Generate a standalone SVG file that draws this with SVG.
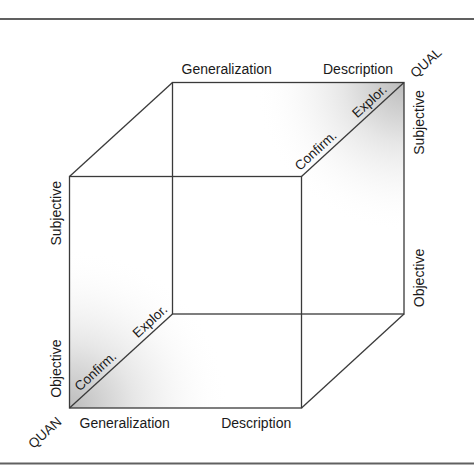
<svg xmlns="http://www.w3.org/2000/svg" width="474" height="474" viewBox="0 0 474 474">
<style>
.edge{fill:none;stroke:#3a3a3a;stroke-width:1.3}
.lbl{font-family:"Liberation Sans",Arial,sans-serif;font-size:14px;fill:#1a1a1a}
.sm{font-size:13.5px}
.rule{stroke:#606060;stroke-width:2}
</style>
<defs>
<radialGradient id="gTR" gradientUnits="userSpaceOnUse" cx="404" cy="82.5" r="150">
<stop offset="0" stop-color="#bcbcbc"/>
<stop offset="0.4" stop-color="#e6e6e6"/>
<stop offset="1" stop-color="#ffffff" stop-opacity="0"/>
</radialGradient>
<radialGradient id="gBL" gradientUnits="userSpaceOnUse" cx="69.5" cy="408" r="160">
<stop offset="0" stop-color="#bcbcbc"/>
<stop offset="0.4" stop-color="#e6e6e6"/>
<stop offset="1" stop-color="#ffffff" stop-opacity="0"/>
</radialGradient>
</defs>
<rect width="474" height="474" fill="#ffffff"/>
<line class="rule" x1="0" y1="19" x2="474" y2="19"/>
<line class="rule" x1="0" y1="463.5" x2="474" y2="463.5"/>
<g id="shading">
<rect x="172.5" y="82.5" width="231.5" height="231.5" fill="url(#gTR)"/>
<rect x="69.5" y="176.5" width="232" height="231.5" fill="url(#gBL)"/>
</g>
<g id="connectors">
<rect class="edge" x="69.5" y="176.5" width="232" height="231.5"/>
<rect class="edge" x="172.5" y="82.5" width="231.5" height="231.5"/>
<line class="edge" x1="69.5" y1="176.5" x2="172.5" y2="82.5"/>
<line class="edge" x1="301.5" y1="176.5" x2="404" y2="82.5"/>
<line class="edge" x1="69.5" y1="408" x2="172.5" y2="314"/>
<line class="edge" x1="301.5" y1="408" x2="404" y2="314"/>
</g>
<g id="labels-top">
<text class="lbl" x="226.7" y="74" text-anchor="middle">Generalization</text>
<text class="lbl" x="358" y="74" text-anchor="middle">Description</text>
<text class="lbl sm" text-anchor="middle" transform="translate(429,66) rotate(-42.5)">QUAL</text>
</g>
<g id="labels-right">
<text class="lbl" text-anchor="middle" transform="translate(424,122.5) rotate(-90)">Subjective</text>
<text class="lbl" text-anchor="middle" transform="translate(424,278) rotate(-90)">Objective</text>
</g>
<g id="labels-left">
<text class="lbl" text-anchor="middle" transform="translate(60.5,213.3) rotate(-90)">Subjective</text>
<text class="lbl" text-anchor="middle" transform="translate(60.5,368.7) rotate(-90)">Objective</text>
<text class="lbl sm" text-anchor="middle" transform="translate(48,436) rotate(-42.5)">QUAN</text>
</g>
<g id="labels-bottom">
<text class="lbl" x="124.7" y="427.5" text-anchor="middle">Generalization</text>
<text class="lbl" x="256.2" y="428" text-anchor="middle">Description</text>
</g>
<g id="labels-diagonal">
<text class="lbl sm" text-anchor="middle" transform="translate(318.7,153.9) rotate(-42.5)">Confirm.</text>
<text class="lbl sm" text-anchor="middle" transform="translate(372.5,104.5) rotate(-42.5)">Explor.</text>
<text class="lbl sm" text-anchor="middle" transform="translate(98.5,374.6) rotate(-42.5)">Confirm.</text>
<text class="lbl sm" text-anchor="middle" transform="translate(153,324.5) rotate(-42.5)">Explor.</text>
</g>
</svg>
